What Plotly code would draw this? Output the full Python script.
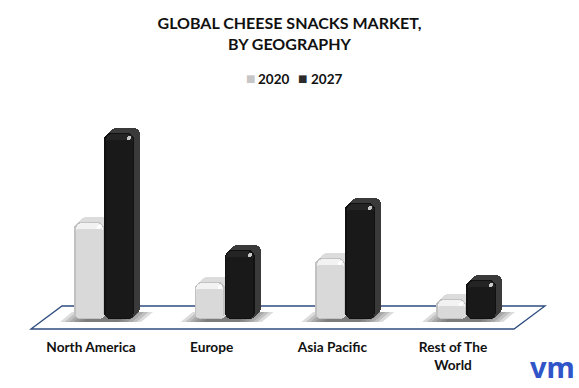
import plotly.graph_objects as go

categories = ["North America", "Europe", "Asia Pacific", "Rest of The<br>World"]
values_2020 = [97, 37, 61, 20]
values_2027 = [186, 69, 116, 39]
series_names = ["2020", "2027"]
series_swatches = ["#c6c6c6", "#2b2b2b"]
title_text = "GLOBAL CHEESE SNACKS MARKET,<br>BY GEOGRAPHY"

U = 1 / 120.67   # one pixel in category units
W, H = 579, 388
BOTTOM = 55
TOP = 100
FONT = "Lato"
SHIFT = 13       # bars sit to the right of their tick labels

fig = go.Figure()


def bar(values, color, left, width, lift=0, trim_top=0, trim_bot=0, radius=6):
    # a bar with an explicit base is rounded at both ends
    fig.add_bar(x=categories,
                y=[v - trim_top - trim_bot for v in values],
                base=[lift + trim_bot] * len(values),
                width=[width * U] * len(values), offset=[(left + SHIFT) * U] * len(values),
                marker=dict(color=color, cornerradius=radius, line=dict(width=0)),
                showlegend=False, hoverinfo="skip")


def series(values, left, depth, edge, face, band, spot):
    for step in range(1, 7):
        bar(values, depth, left + step, 30, lift=step - 0.5, radius=6)
    bar(values, edge, left, 30, radius=7)
    bar(values, band, left + 1.5, 27, trim_top=0.5, trim_bot=1.5, radius=6)
    bar(values, face, left + 1.5, 27, trim_top=7, trim_bot=1.5, radius=3)
    fig.add_bar(x=categories, y=[4] * 4, base=[v - 7 for v in values],
                width=[4 * U] * 4, offset=[(left + SHIFT + 23) * U] * 4,
                marker=dict(color=spot, cornerradius=2, line=dict(width=0)),
                showlegend=False, hoverinfo="skip")


series(values_2020, -30, "#dcdcdc", "#c2c2c2", "#d9d9d9", "#f2f2f2", "#ffffff")
series(values_2027, 0, "#3a3a3a", "#111111", "#191919", "#242424", "#c8c8c8")

px = lambda p: p / W
py = lambda p: (H - BOTTOM - p) / (H - BOTTOM - TOP)
floor = (f"M {px(31)} {py(329)} L {px(62)} {py(306)} L {px(545)} {py(306)} "
         f"L {px(514)} {py(329)} Z")

shapes = [dict(type="path", path=floor, xref="paper", yref="paper", layer="below",
               fillcolor="white", line=dict(color="#2f4c80", width=1.3))]
for i in range(len(categories)):
    c = 91 + SHIFT + i / U
    for k in range(6):
        inset = k * 4.5
        path = (f"M {px(c - 44 + inset)} {py(322)} L {px(c - 32 + inset)} {py(312)} "
                f"L {px(c + 49 - inset)} {py(312)} L {px(c + 37 - inset)} {py(322)} Z")
        shapes.append(dict(type="path", path=path, xref="paper", yref="paper", layer="below",
                           fillcolor="rgba(80,80,80,0.2)", line=dict(width=0)))

legend_notes = []
for name, color, swatch_x, text_x in zip(series_names, series_swatches, [250, 302], [257, 310]):
    legend_notes.append(dict(text="■", x=px(swatch_x), y=py(79), xref="paper", yref="paper",
                             xanchor="center", yanchor="middle", showarrow=False,
                             font=dict(family="DejaVu Sans", size=10, color=color)))
    legend_notes.append(dict(text=name, x=px(text_x), y=py(79), xref="paper", yref="paper",
                             xanchor="left", yanchor="middle", showarrow=False, xshift=-1,
                             font=dict(family=FONT, size=13.5, weight="bold", color="#111111")))

fig.update_layout(
    width=W, height=H, barmode="overlay", bargap=0, showlegend=False,
    margin=dict(l=0, r=0, t=TOP, b=BOTTOM),
    paper_bgcolor="white", plot_bgcolor="rgba(0,0,0,0)",
    font=dict(family=FONT, color="#111111"),
    title=dict(text=title_text, x=0.5, xanchor="center", y=0.925, yanchor="bottom",
               font=dict(family=FONT, size=16, weight="bold", color="#111111")),
    xaxis=dict(type="category", range=[-91 * U, (W - 91) * U], showgrid=False, zeroline=False,
               showline=False, ticks="", ticklabelstandoff=4,
               tickfont=dict(family=FONT, size=13.7, weight="bold", color="#111111"),
               fixedrange=True),
    yaxis=dict(range=[-14, 219], visible=False, fixedrange=True),
    shapes=shapes,
    annotations=legend_notes + [
        dict(text="vm", x=1.0, y=0, xref="paper", yref="paper", xanchor="right",
             yanchor="bottom", yshift=-55, xshift=-2, height=24, valign="bottom", showarrow=False,
             font=dict(family="Noto Sans", size=29, weight="bold", color="#2f55c8"))],
)

fig.write_html("out.html", config={"displayModeBar": False},
               post_script="document.body.style.margin='0';")
